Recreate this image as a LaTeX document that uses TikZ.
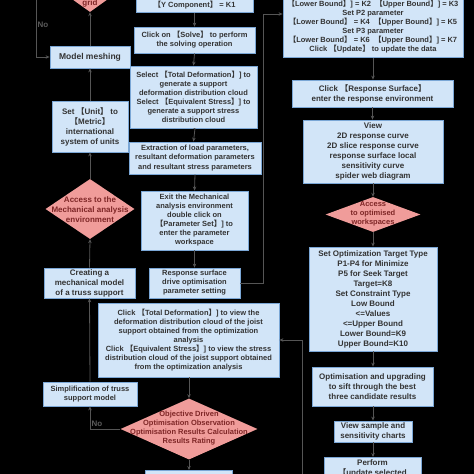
\documentclass[tikz,border=0pt]{standalone}
\usepackage{fontspec}
\setmainfont{Liberation Sans}
\newfontfamily\cjkf{Noto Sans CJK SC}
\usetikzlibrary{shapes.geometric,arrows.meta}
\newcommand{\LBk}{{\cjkf 【}}
\newcommand{\RBk}{{\cjkf 】}}
\definecolor{boxfill}{HTML}{D2E5F8}
\definecolor{boxline}{HTML}{7BA7D6}
\definecolor{boxtext}{HTML}{333333}
\definecolor{dfill}{HTML}{F09C9A}
\definecolor{dtextc}{HTML}{7E2626}
\definecolor{arrowc}{HTML}{555555}
\definecolor{notext}{HTML}{5A5A5A}
\begin{document}
\begin{tikzpicture}[x=1pt,y=-1pt,
  boxshape/.style={draw=boxline, fill=boxfill, line width=0.8pt, inner sep=0pt},
  boxa/.style={boxshape, align=center, text=boxtext, inner sep=1pt, font=\bfseries\fontsize{7.5}{9}\selectfont},
  boxb/.style={boxshape, align=center, text=boxtext, inner sep=1pt, font=\bfseries\fontsize{8}{10}\selectfont},
  btexta/.style={align=center, text=boxtext, inner sep=0pt, font=\bfseries\fontsize{7.5}{9}\selectfont},
  btextb/.style={align=center, text=boxtext, inner sep=0pt, font=\bfseries\fontsize{8}{10}\selectfont},
  dshape/.style={diamond, fill=dfill, draw=none, inner sep=0pt},
  dtexta/.style={align=center, text=dtextc, inner sep=0pt, font=\bfseries\fontsize{7.5}{9}\selectfont},
  dtextb/.style={align=center, text=dtextc, inner sep=0pt, font=\bfseries\fontsize{8}{10}\selectfont},
  arr/.style={draw=arrowc, line width=0.8pt, -{Stealth[length=4pt,width=3.5pt]}},
  nolab/.style={text=notext, inner sep=0pt, font=\bfseries\fontsize{8}{10}\selectfont}
]
\useasboundingbox (0,0) rectangle (474,474);
\fill[black] (0,0) rectangle (474,474);
\clip (0,0) rectangle (474,474);

% ---------- left column ----------
\node[dshape, minimum width=84, minimum height=60] (grid) at (90,-18) {};
\node[dtextb] (gridtxt) at (90,3) {grid};
\node[boxb, font=\bfseries\fontsize{8.5}{10}\selectfont, minimum width=80, minimum height=22] (meshing) at (90,57) {Model meshing};
\node[boxb, minimum width=76, minimum height=51] (unit) at (90,126.5) {Set \LBk Unit\RBk\ to\\\LBk Metric\RBk\\international\\system of units};
\node[dshape, minimum width=89, minimum height=60] (mech) at (90,209) {};
\node[dtextb] (mechtxt) at (90,210) {Access to the\\Mechanical analysis\\environment};
\node[boxb, minimum width=91, minimum height=30] (creating) at (89.5,283) {Creating a\\mechanical model\\of a truss support};
\node[boxa, minimum width=94, minimum height=24] (simpl) at (90,394) {Simplification of truss\\support model};

% ---------- middle column ----------
\node[boxshape, anchor=south, minimum width=117, minimum height=40] (ycomp) at (194.5,13) {};
\node[btexta] (ycomptxt) at (194.5,5.5) {\LBk Y Component\RBk\ = K1};
\node[boxa, minimum width=121, minimum height=26] (solve) at (194.5,40) {Click on \LBk Solve\RBk\ to perform\\the solving operation};
\node[boxa, minimum width=127, minimum height=62] (select) at (193.5,97) {Select \LBk Total Deformation\RBk] to\\generate a support\\deformation distribution cloud\\Select \LBk Equivalent Stress\RBk] to\\generate a support stress\\distribution cloud};
\node[boxa, font=\bfseries\fontsize{7.5}{9.5}\selectfont, minimum width=132, minimum height=32] (extract) at (195,158) {Extraction of load parameters,\\resultant deformation parameters\\and resultant stress parameters};
\node[boxa, minimum width=107, minimum height=59] (exit) at (194.5,220.5) {Exit the Mechanical\\analysis environment\\double click on\\\LBk Parameter Set\RBk] to\\enter the parameter\\workspace};
\node[boxa, minimum width=91, minimum height=30] (rsdrive) at (194.5,283) {Response surface\\drive optimisation\\parameter setting};
\node[boxa, minimum width=181, minimum height=74] (viewcloud) at (188.5,340) {Click \LBk Total Deformation\RBk] to view the\\deformation distribution cloud of the joist\\support obtained from the optimization\\analysis\\Click \LBk Equivalent Stress\RBk] to view the stress\\distribution cloud of the joist support obtained\\from the optimization analysis};
\node[dshape, minimum width=137, minimum height=61] (obj) at (189,429) {};
\node[dtexta] (objtxt) at (189,428.5) {Objective Driven\\Optimisation Observation\\Optimisation Results Calculation\\Results Rating};
\node[boxshape, anchor=north, minimum width=87, minimum height=30] (bottombox) at (188.5,470) {};

% ---------- right column ----------
\node[boxshape, anchor=south, minimum width=180, minimum height=80] (topright) at (373,58) {};
\node[btexta] (toprighttxt) at (373,26.5) {\LBk Lower Bound\RBk] = K2 \ \LBk Upper Bound\RBk] = K3\\Set P2 parameter\\\LBk Lower Bound\RBk\ = K4 \ \LBk Upper Bound\RBk] = K5\\Set P3 parameter\\\LBk Lower Bound\RBk\ = K6 \ \LBk Upper Bound\RBk] = K7\\Click \LBk Update\RBk\ to update the data};
\node[boxb, minimum width=161, minimum height=27] (rs) at (372.5,93.5) {Click \LBk Response Surface\RBk\\enter the response environment};
\node[boxb, minimum width=140, minimum height=63] (view) at (373,151.5) {View\\2D response curve\\2D slice response curve\\response surface local\\sensitivity curve\\spider web diagram};
\node[dshape, minimum width=95, minimum height=35] (acc) at (373,214.5) {};
\node[dtexta] (acctxt) at (373,214) {Access\\to optimised\\workspaces};
\node[boxb, minimum width=128, minimum height=104] (setopt) at (373,299) {Set Optimization Target Type\\P1-P4 for Minimize\\P5 for Seek Target\\Target=K8\\Set Constraint Type\\Low Bound\\<=Values\\<=Upper Bound\\Lower Bound=K9\\Upper Bound=K10};
\node[boxb, minimum width=121, minimum height=39] (optup) at (372.5,386.5) {Optimisation and upgrading\\to sift through the best\\three candidate results};
\node[boxb, minimum width=78, minimum height=21] (vsample) at (373,431.5) {View sample and\\sensitivity charts};
\node[boxshape, anchor=north, minimum width=97, minimum height=40] (perform) at (372.5,457) {};
\node[btextb] (performtxt) at (372.5,468) {Perform\\\LBk update selected};

% ---------- labels ----------
\node[nolab] (no1) at (43,25) {No};
\node[nolab] (no2) at (97,424) {No};

% ---------- helper coordinates ----------
\coordinate (nocorner) at (36,57);
\coordinate (rcorner) at (263,14);
\coordinate (bstart) at (302,480);
\coordinate (lcorner) at (90,429);

% ---------- connectors ----------
\draw[arr] (grid.west) -- (grid.west -| nocorner) -- (nocorner) -- (meshing.west);
\draw[arr] (meshing.north) -- (grid.south);
\draw[arr] (unit.north) -- (meshing.south);
\draw[arr] (mech.north) -- (unit.south);
\draw[arr] (creating.north) -- (mech.south);
\draw[arr] (simpl.north) -- (creating.south);

\draw[arr] (ycomp.south) -- (solve.north);
\draw[arr] (solve.south) -- (select.north);
\draw[arr] (select.south) -- (extract.south |- select.south) -- (extract.north -| select.south);
\draw[arr] (extract.south) -- (exit.north);
\draw[arr] (exit.south) -- (rsdrive.north);
\draw[arr] (rsdrive.east) -| (rcorner) -- (rcorner -| topright.west);
\draw[arr] (bstart) |- (viewcloud.east);
\draw[arr] (viewcloud.south -| obj.north) -- (obj.north);
\draw[arr] (obj.south) -- (bottombox.north -| obj.south);
\draw[arr] (obj.west) -- (lcorner) -- (simpl.south);

\draw[arr] (topright.south) -- (rs.north -| topright.south);
\draw[arr] (rs.south) -- (view.north -| rs.south);
\draw[arr] (view.south) -- (acc.north);
\draw[arr] (acc.south) -- (setopt.north);
\draw[arr] (setopt.south) -- (optup.north -| setopt.south);
\draw[arr] (optup.south -| vsample.north) -- (vsample.north);
\draw[arr] (vsample.south) -- (perform.north -| vsample.south);
\end{tikzpicture}
\end{document}
